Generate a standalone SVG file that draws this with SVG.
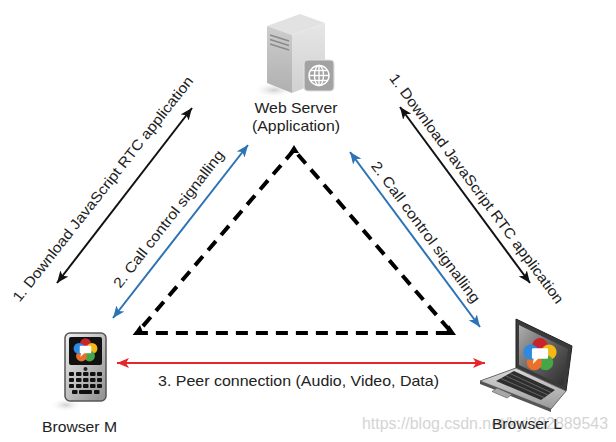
<svg xmlns="http://www.w3.org/2000/svg" xmlns:xlink="http://www.w3.org/1999/xlink" width="616" height="442" viewBox="0 0 616 442">
<style>
.t{font-family:"Liberation Sans",Arial,Helvetica,sans-serif;font-size:14.5px;fill:#222;}
.c{fill:none;stroke-width:2;}
.dash{fill:none;stroke:#000;stroke-width:4;stroke-dasharray:12 8;}
.wm{font-family:"Liberation Sans",Arial,sans-serif;font-size:16px;fill:#d4d4d4;}
</style>
<defs>
<marker id="mk" viewBox="0 0 12 10" refX="12" refY="5" markerWidth="12" markerHeight="10" markerUnits="userSpaceOnUse" orient="auto-start-reverse"><path d="M0,0 L12,5 L0,10 L3,5 z" fill="#111"/></marker>
<marker id="mb" viewBox="0 0 12 10" refX="12" refY="5" markerWidth="12" markerHeight="10" markerUnits="userSpaceOnUse" orient="auto-start-reverse"><path d="M0,0 L12,5 L0,10 L3,5 z" fill="#2b73b5"/></marker>
<marker id="mr" viewBox="0 0 12 10" refX="12" refY="5" markerWidth="12" markerHeight="10" markerUnits="userSpaceOnUse" orient="auto-start-reverse"><path d="M0,0 L12,5 L0,10 L3,5 z" fill="#e5262b"/></marker>
<linearGradient id="gPhone" x1="0" y1="0" x2="1" y2="1"><stop offset="0" stop-color="#f0f0f0"/><stop offset="1" stop-color="#8e8e8e"/></linearGradient>
<linearGradient id="gSrvL" x1="0" y1="0" x2="0" y2="1"><stop offset="0" stop-color="#cdcdcd"/><stop offset="1" stop-color="#b0b0b0"/></linearGradient>
<linearGradient id="gSrvR" x1="0" y1="0" x2="0" y2="1"><stop offset="0" stop-color="#e6e6e6"/><stop offset="1" stop-color="#d0d0d0"/></linearGradient>
<linearGradient id="gScr" x1="0" y1="0" x2="1" y2="1"><stop offset="0" stop-color="#b0b0b0"/><stop offset="0.55" stop-color="#5a5a5a"/><stop offset="1" stop-color="#2a2a2a"/></linearGradient>
<linearGradient id="gBase" x1="0" y1="0" x2="0" y2="1"><stop offset="0" stop-color="#dadada"/><stop offset="1" stop-color="#9a9a9a"/></linearGradient>
<radialGradient id="gSh"><stop offset="0" stop-color="#cfcfcf"/><stop offset="1" stop-color="#ffffff" stop-opacity="0"/></radialGradient>
<g id="rtc">
<circle cx="0" cy="-10" r="8" fill="#c9242b"/>
<circle cx="9.5" cy="-3.1" r="8" fill="#f4b915"/>
<circle cx="5.9" cy="8.1" r="8" fill="#46a547"/>
<circle cx="-5.9" cy="8.1" r="8" fill="#e8702a"/>
<circle cx="-9.5" cy="-3.1" r="8" fill="#2d8ae0"/>
<rect x="-8.5" y="-7" width="17" height="11" rx="1.5" fill="#fff"/>
<polygon points="-6.5,3.5 -1.5,3.5 -7.5,9.5" fill="#fff"/>
</g>
</defs>
<rect width="616" height="442" fill="#fff"/>

<g id="watermark"><text class="wm" x="362" y="429" textLength="246" lengthAdjust="spacingAndGlyphs">https://blog.csdn.net/kyl382889543</text></g>

<g id="web-server">
<ellipse cx="274" cy="90" rx="22" ry="8" fill="url(#gSh)"/>
<polygon points="267,26 300,14 325,23 292,35" fill="#e2e2e2"/>
<polygon points="267,26 292,35 292,93 267,83" fill="url(#gSrvL)"/>
<polygon points="292,35 325,23 325,80 292,93" fill="url(#gSrvR)"/>
<g stroke="#8a8a8a" stroke-width="1.4">
<line x1="270" y1="35" x2="289" y2="41"/>
<line x1="270" y1="39.5" x2="289" y2="45.5"/>
<line x1="270" y1="44" x2="289" y2="50"/>
</g>
<rect x="304" y="60" width="30" height="31" rx="4" fill="#a3a3a3" stroke="#e0e0e0" stroke-width="1.2"/>
<g fill="none" stroke="#fff" stroke-width="1.4">
<circle cx="319" cy="75.5" r="10"/>
<ellipse cx="319" cy="75.5" rx="4.5" ry="10"/>
<line x1="309" y1="75.5" x2="329" y2="75.5"/>
<line x1="319" y1="65.5" x2="319" y2="85.5"/>
<line x1="311" y1="70.5" x2="327" y2="70.5"/>
<line x1="311" y1="80.5" x2="327" y2="80.5"/>
</g>
<text class="t" x="296" y="113" text-anchor="middle" textLength="83" lengthAdjust="spacingAndGlyphs">Web Server</text>
<text class="t" x="296" y="131" text-anchor="middle" textLength="88" lengthAdjust="spacingAndGlyphs">(Application)</text>
</g>

<g id="browser-m">
<ellipse cx="66" cy="405" rx="16" ry="7" fill="url(#gSh)"/>
<rect x="65" y="333" width="41" height="68" rx="5" fill="url(#gPhone)" stroke="#555" stroke-width="1.5"/>
<rect x="69" y="337" width="33" height="28" rx="2" fill="#111"/>
<use href="#rtc" transform="translate(85.5,350.5) scale(0.68)"/>
<circle cx="85.5" cy="369" r="2" fill="#222"/>
<g fill="#111">
<rect x="69" y="372" width="5" height="4" rx="1"/><rect x="76" y="372" width="5.5" height="4" rx="1"/><rect x="83" y="372" width="5.5" height="4" rx="1"/><rect x="90" y="372" width="5.5" height="4" rx="1"/><rect x="97" y="372" width="5" height="4" rx="1"/>
<rect x="69" y="378" width="5" height="4" rx="1"/><rect x="76" y="378" width="5.5" height="4" rx="1"/><rect x="83" y="378" width="5.5" height="4" rx="1"/><rect x="90" y="378" width="5.5" height="4" rx="1"/><rect x="97" y="378" width="5" height="4" rx="1"/>
<rect x="69" y="384" width="5" height="4" rx="1"/><rect x="76" y="384" width="5.5" height="4" rx="1"/><rect x="83" y="384" width="5.5" height="4" rx="1"/><rect x="90" y="384" width="5.5" height="4" rx="1"/><rect x="97" y="384" width="5" height="4" rx="1"/>
<rect x="72" y="390" width="5.5" height="4" rx="1"/><rect x="79" y="390" width="13" height="4" rx="1"/><rect x="94" y="390" width="5.5" height="4" rx="1"/>
</g>
<text class="t" x="79.5" y="432" text-anchor="middle" textLength="75" lengthAdjust="spacingAndGlyphs">Browser M</text>
</g>

<g id="browser-l">
<polygon points="516,319 572,346 566,391 516,368" fill="#3a3a3a" stroke="#222" stroke-width="1"/>
<polygon points="519,325 568,349 563,386 519,365" fill="url(#gScr)"/>
<use href="#rtc" transform="translate(540,355) scale(0.95)"/>
<polygon points="516,368 566,391 551,409 480,381" fill="url(#gBase)" stroke="#666" stroke-width="1"/>
<polygon points="480,381 551,409 551,412 480,384" fill="#555"/>
<polygon points="514,371 555,390 541,400 496,381" fill="#2e2e2e"/>
<g stroke="#888" stroke-width="0.6">
<line x1="510" y1="373.5" x2="551" y2="392.5"/>
<line x1="506" y1="376" x2="548" y2="395"/>
<line x1="501" y1="378.5" x2="544" y2="397.5"/>
</g>
<polygon points="497,388 512,394.5 507,398 492,391.5" fill="#a8a8a8" stroke="#555" stroke-width="0.6"/>
<text class="t" x="527" y="429" text-anchor="middle" textLength="70" lengthAdjust="spacingAndGlyphs">Browser L</text>
</g>

<g id="connectors">
<polygon class="dash" points="294,150 137,333 452,333"/>
<g fill="#000">
<polygon points="289,153 299,153 294,145"/>
<polygon points="133,335 144,335 140,325"/>
<polygon points="445,335 456,335 449,325"/>
</g>
<line class="c" stroke="#111" x1="57" y1="283" x2="192" y2="108" marker-start="url(#mk)" marker-end="url(#mk)"/>
<line class="c" stroke="#2b73b5" x1="113" y1="318" x2="248" y2="145" marker-start="url(#mb)" marker-end="url(#mb)"/>
<line class="c" stroke="#111" x1="400" y1="107" x2="530" y2="283" marker-start="url(#mk)" marker-end="url(#mk)"/>
<line class="c" stroke="#2b73b5" x1="350" y1="152" x2="480" y2="327" marker-start="url(#mb)" marker-end="url(#mb)"/>
<line class="c" stroke="#e5262b" x1="117" y1="363" x2="485" y2="363" marker-start="url(#mr)" marker-end="url(#mr)"/>
<text class="t" transform="translate(106.8,192) rotate(-51.8)" text-anchor="middle" textLength="282" lengthAdjust="spacingAndGlyphs">1. Download JavaScript RTC application</text>
<text class="t" transform="translate(172.5,222) rotate(-52)" text-anchor="middle" textLength="170" lengthAdjust="spacingAndGlyphs">2. Call control signalling</text>
<text class="t" transform="translate(472.7,191.5) rotate(53.5)" text-anchor="middle" textLength="282" lengthAdjust="spacingAndGlyphs">1. Download JavaScript RTC application</text>
<text class="t" transform="translate(421.8,235) rotate(53.4)" text-anchor="middle" textLength="172" lengthAdjust="spacingAndGlyphs">2. Call control signalling</text>
<text class="t" x="158" y="386" textLength="281" lengthAdjust="spacingAndGlyphs">3. Peer connection (Audio, Video, Data)</text>
</g>
</svg>
